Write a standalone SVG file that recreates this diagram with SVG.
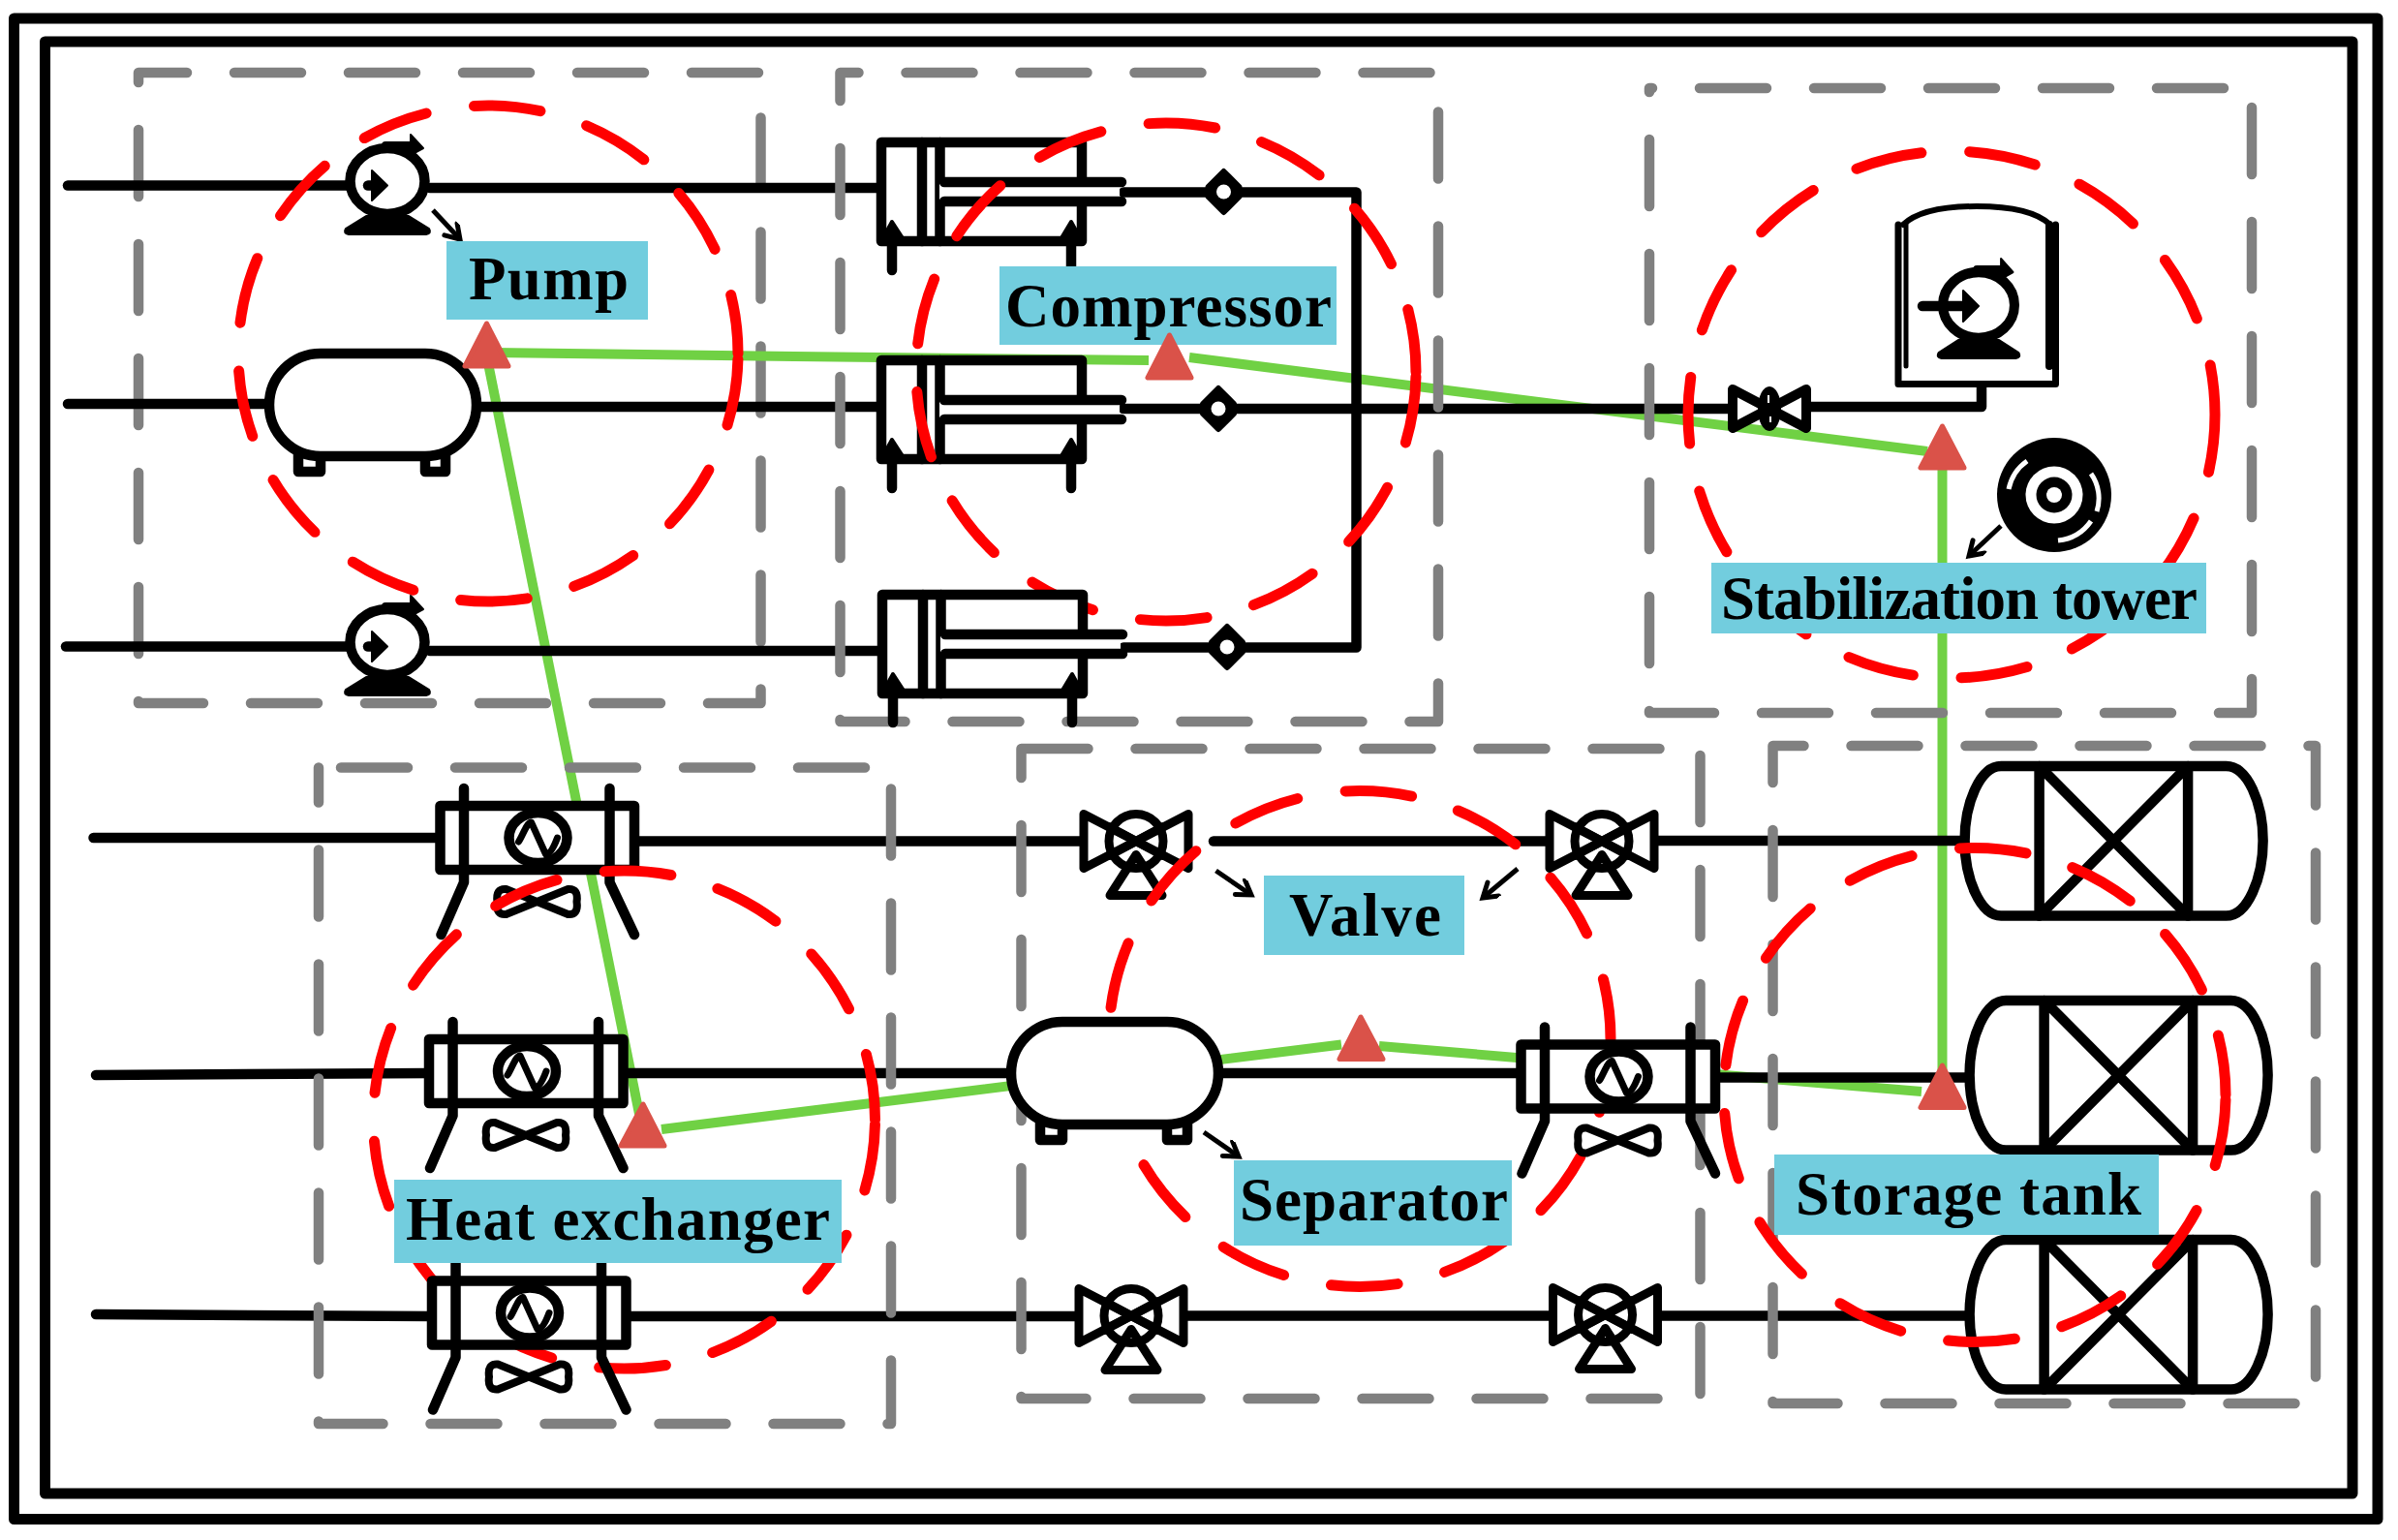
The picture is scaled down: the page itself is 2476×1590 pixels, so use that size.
<svg xmlns="http://www.w3.org/2000/svg" width="2476" height="1590" viewBox="0 0 2476 1590">
<style>
.k{fill:none;stroke:#000;stroke-width:10.500;stroke-linecap:round;stroke-linejoin:round}
.w{fill:#fff;stroke:#000;stroke-width:10.500;stroke-linecap:round;stroke-linejoin:round}
.b{fill:#000;stroke:#000;stroke-width:2;stroke-linejoin:round}
.gd{fill:none;stroke:#808080;stroke-width:10.500;stroke-linecap:round;stroke-linejoin:round;stroke-dasharray:69 49}
.rd{fill:none;stroke:#ff0000;stroke-width:11;stroke-linecap:round;stroke-dasharray:69 50}
.gn{fill:none;stroke:#70d144;stroke-width:10;stroke-linejoin:round}
.tri{fill:#da5249;stroke:#da5249;stroke-width:5;stroke-linejoin:round}
.lb{fill:#72cdde}
.t{font-family:"Liberation Serif","Times New Roman",serif;font-weight:bold;font-size:63px;fill:#000}
.ar{fill:none;stroke:#000;stroke-width:5;marker-end:url(#open)}
</style>
<defs>
<marker id="open" markerUnits="userSpaceOnUse" markerWidth="24" markerHeight="24" refX="18" refY="10" orient="auto">
<path d="M4,1 L18,10 L4,19" fill="none" stroke="#000" stroke-width="5" stroke-linecap="round"/>
</marker>
<g id="s-pump">
<path class="b" stroke-width="6" d="M-22,36 L-43,49 Q-46,54 -40,55 L40,55 Q46,54 43,49 L22,36 Z"/>
<ellipse class="w" cx="0" cy="0" rx="38.500" ry="34"/>
<path class="k" style="stroke-width:8" d="M-2,-37 H24"/>
<path class="b" d="M24,-48 L37,-34 L24,-27 Z"/>
</g>
<g id="s-vessel">
<rect class="w" x="30" y="98" width="23" height="24" stroke-width="9"/>
<rect class="w" x="161" y="98" width="21" height="24" stroke-width="9"/>
<rect class="w" x="0" y="0" width="214" height="106" rx="53" ry="53"/>
</g>
<g id="s-cyl">
<rect class="w" x="0" y="0" width="207" height="102"/>
<path class="k" d="M42,0V102M60.500,0V102"/>
<rect x="60" y="41" width="186" height="20" fill="#fff"/>
<path class="k" d="M65,41H248M65,61H248"/>
<path class="b" style="stroke-width:4" d="M11,82 L0,102 H24 Z M196,82 L184,102 H207 Z"/>
<path class="k" d="M11,102V132M196,102V132"/>
</g>
<g id="s-check">
<path fill="#000" stroke="#000" stroke-width="6" stroke-linejoin="round" d="M0,-21 L16,-5 V5 L0,21 L-16,5 V-5 Z"/>
<circle cx="0" cy="0" r="7.500" fill="#fff"/>
</g>
<g id="s-hx">
<rect class="w" x="-101" y="-33" width="200.500" height="66"/>
<path class="k" d="M-76.500,-51V46L-100,100M74,-51V46L99.500,100"/>
<ellipse class="w" cx="0" cy="0" rx="30" ry="26"/>
<path class="k" style="stroke-width:7" d="M-20,4 C-15,-4 -12,-15 -7,-16 L8,17 C13,17 17,8 20,0"/>
<path class="w" style="stroke-width:8" d="M-1,66 L-33,53 Q-44,52 -42,66 Q-44,80 -33,79 L-1,66 L31,53 Q42,52 40,66 Q42,80 31,79 Z"/>
</g>
<g id="s-valve">
<path class="w" d="M-54,-28 L0,0 L-54,28 Z M54,-28 L0,0 L54,28 Z" style="stroke-width:9"/>
<path class="w" style="stroke-width:9" d="M0,14 L-27,56 H27 Z"/>
<circle class="k" cx="0" cy="0" r="28" style="stroke-width:9"/>
<path class="k" d="M0,0 L-28,-15 M0,0 L28,-15 M0,0 L-28,15 M0,0 L28,15" style="stroke-width:9"/>
</g>
<g id="s-tank">
<path class="w" d="M37.500,0 H270 C292,0 308,38 308,77 C308,116 292,154.600 270,154.600 H37.500 C16,154.600 0,116 0,77 C0,38 16,0 37.500,0 Z"/>
<path class="k" d="M77,0V154.600M230.500,0V154.600M77,0L230.500,154.600M230.500,0L77,154.600"/>
</g>
</defs>

<g id="frame">
<rect x="14.500" y="19" width="2440.500" height="1549.500" fill="none" stroke="#000" stroke-width="11" stroke-linejoin="round"/>
<rect x="46.500" y="43" width="2382.500" height="1499" fill="none" stroke="#000" stroke-width="11" stroke-linejoin="round"/>
</g>

<rect id="group-pump" class="gd" x="143" y="75" width="642.500" height="651" stroke-dashoffset="19"/>

<g id="connectors">
<g id="monitoring-links">
<path class="gn" d="M503,364 L820,368 L1186,372 M1228,369 L1990,466"/>
<path class="gn" d="M503,370 L660,1150"/>
<path class="gn" d="M683,1166 L1385,1078.500 M1424,1080 L1984,1127"/>
<path class="gn" d="M2005.500,466 V1110"/>
</g>
<g id="pipes">
<path class="k" d="M70,191.500 H385"/>
<path class="k" d="M444,194 H906"/>
<path class="k" d="M70,417 H278"/>
<path class="k" d="M497,420 H906"/>
<path class="k" d="M68,667.500 H385"/>
<path class="k" d="M444,672 H906"/>
<path class="k" d="M1160,198.500 H1400.500 V668.500 H1160"/>
<path class="k" d="M1160,422 H1790"/>
<path class="k" d="M1865,420 H2046 V397"/>
<path class="k" d="M96.500,865 H455"/>
<path class="k" d="M655,868.500 H1120"/>
<path class="k" d="M1253,868.500 H1600"/>
<path class="k" d="M1710,868 H2030"/>
<path class="k" d="M99,1110 L445,1108"/>
<path class="k" d="M645,1108 H1570"/>
<path class="k" d="M1770,1112.500 H2034"/>
<path class="k" d="M99,1357 L445,1359"/>
<path class="k" d="M645,1359 H1115"/>
<path class="k" d="M1225,1358.500 H1600"/>
<path class="k" d="M1712,1358.500 H2034"/>
</g>
<g id="callouts">
<path class="ar" d="M447,217 L475,247"/>
<path class="ar" d="M2066,543 L2033,574"/>
<path class="ar" d="M1255.500,899 L1292,924"/>
<path class="ar" d="M1567,897 L1531,927"/>
<path class="ar" d="M1243,1169 L1279,1194"/>
</g>
</g>

<rect id="group-compressor" class="gd" x="867.500" y="75" width="617.500" height="670" stroke-dashoffset="50"/>
<rect id="group-tower" class="gd" x="1703" y="91" width="622" height="645" stroke-dashoffset="66"/>
<rect id="group-hx" class="gd" x="329" y="792.500" width="591" height="677.500" stroke-dashoffset="95"/>
<rect id="group-valve" class="gd" x="1054.500" y="773" width="701" height="671"/>
<rect id="group-tank" class="gd" x="1830.500" y="770" width="560.500" height="679" stroke-dashoffset="37"/>

<g id="pump-1" transform="translate(400,187)"><use href="#s-pump"/><path class="k" d="M-20,4.500H-10"/><path class="b" d="M-16,-11 L0,4.500 L-16,20 Z"/></g>
<g id="pump-2" transform="translate(400,663)"><use href="#s-pump"/><path class="k" d="M-20,4.500H-10"/><path class="b" d="M-16,-11 L0,4.500 L-16,20 Z"/></g>
<g id="separator-1" transform="translate(278,365)"><use href="#s-vessel"/></g>
<g id="compressor-1" transform="translate(910,147)"><use href="#s-cyl"/></g>
<g id="compressor-2" transform="translate(910,372)"><use href="#s-cyl"/></g>
<g id="check-1" transform="translate(1263.500,198)"><use href="#s-check"/></g>
<g id="check-2" transform="translate(1258,422)"><use href="#s-check"/></g>
<g id="check-3" transform="translate(1267,668)"><use href="#s-check"/></g>
<g id="stab-valve">
<path class="w" d="M1789,402 L1827,422 L1789,442 Z M1865,402 L1827,422 L1865,442 Z" style="stroke-width:10"/>
<ellipse cx="1827" cy="422" rx="12" ry="23" fill="#000"/>
<path d="M1826,408 V416 M1828,430 V436" stroke="#fff" stroke-width="2" fill="none"/>
</g>
<g id="stabilization-tank">
<path class="w" style="stroke-width:7" d="M1960,232 V396.500 H2122.500 V232"/>
<path class="k" style="stroke-width:6" d="M1965,232 Q1985,213 2041,213 Q2097,213 2117,232"/>
<path class="k" style="stroke-width:5" d="M1968,232V378"/>
<path class="k" style="stroke-width:8" d="M2116,232V378"/>
<g transform="translate(2043,315) scale(.96,1)"><use href="#s-pump"/></g>
<path class="k" d="M1985,316H2030"/>
<path class="b" d="M2027,300 L2043,316 L2027,332 Z"/>
</g>
<g id="disc">
<circle cx="2121" cy="511" r="59" fill="#000"/>
<path fill="none" stroke="#fff" stroke-width="5" d="M2074,505 A47,47 0 0 1 2093,476 M2159,489 A44,44 0 0 1 2165,528 M2159,538 A47,47 0 0 1 2125,558"/>
<circle cx="2121" cy="511" r="29.500" fill="#fff"/>
<circle cx="2121" cy="511" r="18.500" fill="#000"/>
<circle cx="2121" cy="511" r="8" fill="#fff"/>
</g>
<g id="hx-1" transform="translate(555.500,865)"><use href="#s-hx"/></g>
<g id="hx-2" transform="translate(544,1106)"><use href="#s-hx"/></g>
<g id="valve-1" transform="translate(1173,868.500)"><use href="#s-valve"/></g>
<g id="valve-2" transform="translate(1654,868.500)"><use href="#s-valve"/></g>
<g id="valve-3" transform="translate(1168,1358.500)"><use href="#s-valve"/></g>
<g id="valve-4" transform="translate(1657.500,1357.500)"><use href="#s-valve"/></g>
<g id="tank-1" transform="translate(2028.600,791)"><use href="#s-tank"/></g>
<g id="tank-2" transform="translate(2033.600,1033)"><use href="#s-tank"/></g>
<g id="tank-3" transform="translate(2033.600,1280)"><use href="#s-tank"/></g>

<g id="regions">
<ellipse class="rd" cx="504" cy="365" rx="258" ry="256" stroke-dashoffset="-6"/>
<ellipse class="rd" cx="1204" cy="384" rx="258" ry="257" stroke-dashoffset="-5"/>
<ellipse class="rd" cx="2015" cy="428" rx="272" ry="272" stroke-dashoffset="9"/>
<ellipse class="rd" cx="644.500" cy="1156" rx="259" ry="257" stroke-dashoffset="-5"/>
<ellipse class="rd" cx="1404" cy="1072.500" rx="259" ry="256" stroke-dashoffset="-8"/>
<ellipse class="rd" cx="2039" cy="1130.500" rx="259" ry="255" stroke-dashoffset="-5"/>
</g>

<g id="compressor-3" transform="translate(911,614)"><use href="#s-cyl"/></g>
<g id="separator-2" transform="translate(1044,1055)"><use href="#s-vessel"/></g>
<g id="hx-3" transform="translate(547,1355.500)"><use href="#s-hx"/></g>
<g id="hx-4" transform="translate(1671.500,1111.500)"><use href="#s-hx"/></g>

<g id="label-pump"><rect class="lb" x="461" y="249" width="208" height="81"/><text class="t" x="484" y="309" textLength="165" lengthAdjust="spacing">Pump</text></g>
<g id="label-compressor"><rect class="lb" x="1032" y="275" width="348" height="81"/><text class="t" x="1038" y="337" textLength="337" lengthAdjust="spacing">Compressor</text></g>
<g id="label-stabilization"><rect class="lb" x="1767" y="581" width="511" height="73"/><text class="t" x="1777" y="639" textLength="492" lengthAdjust="spacing">Stabilization tower</text></g>
<g id="label-hx"><rect class="lb" x="407" y="1218" width="462" height="86"/><text class="t" x="419" y="1280" textLength="438" lengthAdjust="spacing">Heat exchanger</text></g>
<g id="label-valve"><rect class="lb" x="1305" y="904" width="207" height="82"/><text class="t" x="1331" y="966" textLength="157" lengthAdjust="spacing">Valve</text></g>
<g id="label-separator"><rect class="lb" x="1274" y="1198" width="287" height="88"/><text class="t" x="1280" y="1260" textLength="277" lengthAdjust="spacing">Separator</text></g>
<g id="label-storage"><rect class="lb" x="1832" y="1192" width="397" height="83"/><text class="t" x="1854" y="1254" textLength="357" lengthAdjust="spacing">Storage tank</text></g>

<g id="markers">
<path id="marker-1" class="tri" d="M502.500,334 L480,378 H525 Z"/>
<path id="marker-2" class="tri" d="M1207.500,346 L1185,390 H1230 Z"/>
<path id="marker-3" class="tri" d="M2005.500,440 L1983,483 H2028 Z"/>
<path id="marker-4" class="tri" d="M2005.500,1100 L1983,1143.500 H2028 Z"/>
<path id="marker-5" class="tri" d="M1405,1050 L1383,1093.500 H1428 Z"/>
<path id="marker-6" class="tri" d="M664,1140 L641,1183 H686 Z"/>
</g>
</svg>
